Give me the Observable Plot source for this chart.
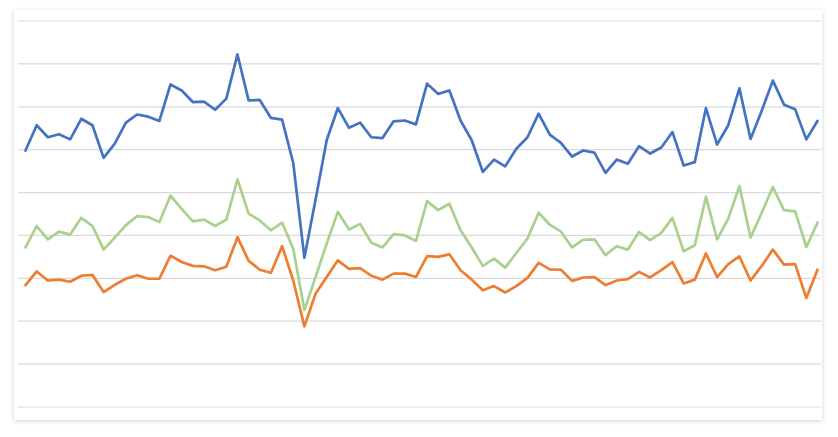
<!DOCTYPE html>
<html>
<head>
<meta charset="utf-8">
<script src="https://cdn.jsdelivr.net/npm/d3@7"></script>
<script src="https://cdn.jsdelivr.net/npm/@observablehq/plot@0.6"></script>
<style>
  html, body { margin: 0; padding: 0; background: #ffffff; width: 838px; height: 437px; overflow: hidden; }
  #card { position: absolute; left: 14px; top: 10px; width: 808px; height: 410px; background: #ffffff;
          box-shadow: 0 1px 5px rgba(0,0,0,0.18); }
  #chart { position: absolute; left: 0; top: 0; }
</style>
</head>
<body>
<div id="card"></div>
<div id="chart"></div>
<script>
const gridTicks = [0, 1, 2, 3, 4, 5, 6, 7, 8, 9];

const series1 = [5.98,6.57,6.29,6.36,6.24,6.72,6.57,5.81,6.14,6.63,6.82,6.77,
  6.67,7.52,7.38,7.11,7.12,6.93,7.19,8.22,7.15,7.16,6.74,6.70,
  5.69,3.48,4.83,6.22,6.97,6.51,6.63,6.29,6.27,6.66,6.68,6.59,
  7.54,7.30,7.38,6.68,6.22,5.48,5.77,5.61,6.02,6.29,6.84,6.35,
  6.16,5.84,5.98,5.93,5.46,5.77,5.67,6.08,5.91,6.05,6.41,5.63,
  5.71,6.97,6.12,6.57,7.43,6.25,6.91,7.61,7.05,6.94,6.24,6.67];

const series3 = [3.72,4.22,3.91,4.09,4.02,4.41,4.22,3.67,3.95,4.24,4.45,4.43,
  4.31,4.93,4.62,4.33,4.37,4.22,4.37,5.31,4.51,4.35,4.12,4.30,
  3.69,2.26,3.03,3.81,4.55,4.14,4.27,3.83,3.72,4.03,4.00,3.87,
  4.80,4.59,4.74,4.12,3.72,3.29,3.46,3.25,3.59,3.93,4.53,4.25,
  4.09,3.72,3.90,3.91,3.54,3.75,3.67,4.08,3.89,4.06,4.41,3.63,
  3.77,4.90,3.91,4.39,5.15,3.95,4.53,5.13,4.59,4.56,3.73,4.30];

const series2 = [2.84,3.16,2.95,2.97,2.92,3.06,3.08,2.68,2.85,2.99,3.07,2.99,
  2.99,3.53,3.38,3.29,3.28,3.19,3.27,3.96,3.41,3.20,3.13,3.75,
  2.95,1.88,2.64,3.03,3.42,3.22,3.24,3.06,2.97,3.11,3.11,3.03,
  3.52,3.50,3.56,3.19,2.97,2.72,2.82,2.67,2.82,3.01,3.36,3.21,
  3.20,2.94,3.02,3.03,2.84,2.95,2.98,3.15,3.02,3.19,3.38,2.88,
  2.97,3.58,3.03,3.33,3.51,2.95,3.29,3.67,3.32,3.33,2.54,3.20];

const seriesNames = ["Series 1", "Series 2", "Series 3"];
const seriesColors = ["#4472C4", "#ED7D31", "#A9D18E"];

const rows = [];
[series1, series2, series3].forEach((arr, s) => {
  arr.forEach((v, i) => rows.push({ i, v, s: seriesNames[s] }));
});

const chart = Plot.plot({
  width: 838,
  height: 437,
  marginLeft: 18,
  marginRight: 17,
  marginTop: 20.5,
  marginBottom: 30.5,
  style: { background: "transparent" },
  x: { type: "linear", domain: [-0.63, 71.36], axis: null },
  y: { domain: [0, 9], axis: null },
  color: { type: "ordinal", domain: seriesNames, range: seriesColors },
  marks: [
    Plot.ruleY(gridTicks, { stroke: "#d9d9d9", strokeWidth: 1.2 }),
    Plot.lineY(rows.filter(d => d.s === "Series 3"), { x: "i", y: "v", stroke: "s", strokeWidth: 2.7 }),
    Plot.lineY(rows.filter(d => d.s === "Series 2"), { x: "i", y: "v", stroke: "s", strokeWidth: 2.7 }),
    Plot.lineY(rows.filter(d => d.s === "Series 1"), { x: "i", y: "v", stroke: "s", strokeWidth: 2.7 })
  ]
});
document.getElementById("chart").appendChild(chart);
</script>
</body>
</html>
